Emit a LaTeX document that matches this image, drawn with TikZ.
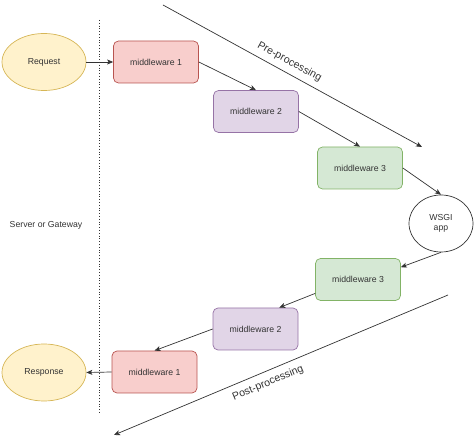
\documentclass[tikz,border=0pt]{standalone}
\usepackage{fontspec}
\setmainfont{Liberation Sans}
\usetikzlibrary{arrows.meta,shapes.geometric}
\definecolor{redF}{HTML}{F8CECC}
\definecolor{redD}{HTML}{B85450}
\definecolor{purF}{HTML}{E1D5E7}
\definecolor{purD}{HTML}{9673A6}
\definecolor{grnF}{HTML}{D5E8D4}
\definecolor{grnD}{HTML}{82B366}
\definecolor{yelF}{HTML}{FFF2CC}
\definecolor{yelD}{HTML}{D6B656}
\definecolor{lineC}{HTML}{333333}
\begin{document}
\begin{tikzpicture}[x=1pt,y=-1pt,
  txt/.style={font=\fontsize{8.7}{10.5}\selectfont, text=lineC},
  box/.style={txt, draw, rounded corners=5pt, minimum width=85pt, minimum height=42pt, inner sep=0pt, line width=0.7pt},
  redbox/.style={box, fill=redF, draw=redD},
  purbox/.style={box, fill=purF, draw=purD},
  grnbox/.style={box, fill=grnF, draw=grnD},
  oval/.style={txt, ellipse, draw=yelD, fill=yelF, line width=0.7pt, minimum width=84pt, minimum height=57pt, inner sep=0pt},
  conn/.style={draw=lineC, line width=0.7pt, -{Stealth[length=6pt,width=5pt,inset=1.5pt]}},
  biglabel/.style={font=\fontsize{10.6}{12}\selectfont, text=lineC}
]
\useasboundingbox (0,0) rectangle (474,443);

\node[oval] (req) at (44,62) {Request};
\node[oval] (resp) at (44,372.5) {Response};

\node[redbox] (m1) at (156,62) {middleware 1};
\node[purbox] (m2) at (256,111.5) {middleware 2};
\node[grnbox] (m3) at (360,168) {middleware 3};
\node[ellipse, draw=lineC, fill=white, line width=0.7pt, minimum width=64pt, minimum height=57pt, inner sep=0pt, txt, align=center] (wsgi) at (441,223.5) {WSGI\\app};
\node[grnbox] (m3b) at (358,279.5) {middleware 3};
\node[purbox] (m2b) at (255.5,329) {middleware 2};
\node[redbox] (m1b) at (154.5,372) {middleware 1};

\node[txt] (srv) at (46,225) {Server or Gateway};

\coordinate (dtop) at (99.5,20);
\coordinate (dbot) at (99.5,413);
\draw[lineC, dotted, line width=0.8pt] (dtop) -- (dbot);

\draw[conn] (req.east) -- (m1.west);
\draw[conn] (m1.east) -- (m2.north);
\draw[conn] (m2.east) -- (m3.north);
\draw[conn] (m3.east) -- (wsgi.north);
\draw[conn] (wsgi.south) -- (m3b.16);
\draw[conn] (m3b.198) -- (m2b.42);
\draw[conn] (m2b.west) -- (m1b.north);
\draw[conn] (m1b.west) -- (resp.east);

\coordinate (preA) at (163,5);
\coordinate (preB) at (422,147);
\draw[conn] (preA) -- (preB);
\node[biglabel, rotate=-28.7] (prelbl) at (289.5,62) {Pre-processing};

\coordinate (postA) at (448,295);
\coordinate (postB) at (114,435);
\draw[conn] (postA) -- (postB);
\node[biglabel, rotate=22.7] (postlbl) at (268,383) {Post-processing};
\end{tikzpicture}
\end{document}
